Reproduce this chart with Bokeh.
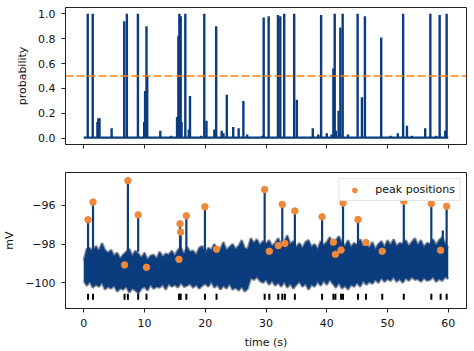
import numpy as np
from bokeh.plotting import figure
from bokeh.layouts import column
from bokeh.models import (Span, FixedTicker, Legend, LegendItem, Range1d,
                          PrintfTickFormatter, CustomJSTickFormatter)
from bokeh.embed import file_html
from bokeh.resources import INLINE

# ---------------- data ----------------
# top panel: spike probabilities (time s, probability)
prob_t = [0.66, 1.48, 2.25, 2.4, 2.6, 4.59, 6.67, 7.10, 8.92, 9.95, 10.1, 10.33, 10.45,
          12.6, 14.4, 15.36, 15.58, 15.74, 15.96, 16.1, 16.72, 17.3, 17.49, 19.3, 19.84,
          20.2, 21.5, 21.80, 22.7, 23.0, 23.55, 24.6, 25.5, 26.28, 26.9, 29.4, 29.62,
          30.44, 31.97, 32.2, 32.35, 33.0, 34.64, 35.08, 37.7, 38.6, 39.07, 40.0, 40.8,
          41.09, 41.31, 41.5, 41.95, 42.24, 42.62, 43.5, 45.08, 45.79, 46.28, 48.96,
          50.5, 51.7, 52.57, 53.2, 54.0, 56.2, 57.05, 58.0, 58.58, 59.5, 59.73]
prob_h = [1.0, 1.0, 0.13, 0.16, 0.16, 0.08, 0.94, 1.0, 1.0, 0.13, 0.38, 0.9, 0.5,
          0.06, 0.02, 0.17, 0.82, 1.0, 0.98, 0.13, 1.0, 0.07, 0.34, 0.02, 1.0,
          0.14, 0.07, 0.9, 0.06, 0.04, 0.35, 0.09, 0.08, 0.3, 0.03, 0.02, 0.97,
          0.98, 0.99, 0.02, 0.98, 1.0, 1.0, 0.31, 0.08, 0.03, 0.99, 0.04, 0.03,
          0.56, 1.0, 0.06, 0.22, 0.89, 1.0, 0.03, 1.0, 0.33, 0.98, 0.81,
          0.02, 0.04, 1.0, 0.1, 0.02, 0.08, 1.0, 0.02, 0.99, 0.06, 1.0]
prob_base_t = [0.0, 60.0]
prob_base_v = [0.006, 0.006]
threshold = 0.5

# bottom panel: detected peaks (time s, mV)
peak_t = [0.71, 1.53, 6.72, 7.27, 8.96, 10.33, 15.68, 15.85, 15.96, 16.89, 19.95,
          21.86, 29.78, 30.55, 32.02, 32.68, 33.11, 34.75, 39.23, 41.09, 41.42,
          42.35, 42.68, 45.14, 46.45, 49.13, 52.68, 57.21, 58.74, 59.73]
peak_mv = [-96.74, -95.83, -99.08, -94.72, -96.49, -99.2, -98.79, -96.95, -97.38,
           -96.54, -96.07, -98.27, -95.18, -98.37, -98.08, -95.95, -97.97, -96.29,
           -96.59, -97.9, -98.53, -98.31, -95.88, -96.73, -97.92, -98.37, -95.79,
           -95.91, -98.32, -96.05]
# an extra unlabelled transient
extra_t = [59.1]
extra_mv = [-97.3]

# envelope of the noisy membrane trace (every 0.5 s from 0 to 60 s)
env_t = [i * 0.5 for i in range(121)]
env_hi = [-98.85, -98.25, -98.2, -98.4, -98.1, -98.35, -97.95, -98.3, -98.45, -98.3,
          -98.6, -98.45, -98.75, -98.55, -98.4, -98.25, -98.6, -98.35, -98.5, -98.7,
          -98.45, -98.8, -98.6, -98.55, -98.75, -98.4, -98.65, -98.5, -98.55, -98.35,
          -98.6, -98.3, -98.2, -98.5, -98.15, -98.4, -98.35, -98.55, -98.2, -98.1,
          -98.45, -98.2, -98.3, -98.0, -98.35, -98.25, -97.9, -98.3, -98.15, -98.0,
          -98.25, -98.1, -97.8, -98.2, -98.25, -97.7, -97.95, -97.75, -98.05, -97.85,
          -98.0, -97.8, -98.1, -97.95, -97.7, -98.05, -97.9, -97.55, -98.0, -97.85,
          -98.15, -97.95, -98.2, -97.9, -97.8, -98.15, -98.0, -98.25, -97.85, -98.05,
          -97.9, -97.65, -98.0, -97.8, -97.6, -97.95, -98.1, -97.8, -98.15, -97.95,
          -98.05, -97.75, -98.1, -97.95, -98.2, -97.9, -98.25, -98.0, -97.85, -98.15,
          -97.8, -98.05, -97.75, -98.1, -97.95, -98.0, -97.8, -98.1, -97.9, -97.7,
          -98.05, -97.8, -98.15, -97.95, -98.0, -97.75, -98.05, -97.8, -97.65, -98.0,
          -98.2]
env_lo = [-99.9, -100.15, -99.95, -100.25, -100.1, -100.2, -100.0, -100.35, -100.2, -100.3,
          -100.15, -100.45, -100.3, -100.35, -100.2, -100.5, -100.3, -100.4, -100.55, -100.3,
          -100.2, -100.4, -100.1, -100.3, -100.2, -100.25, -100.1, -100.35, -100.05, -100.2,
          -100.1, -100.25, -100.0, -100.2, -100.15, -100.05, -100.25, -100.1, -100.3, -100.15,
          -100.05, -100.2, -99.95, -100.25, -100.1, -100.35, -100.15, -100.3, -100.05, -100.35,
          -100.25, -100.4, -100.2, -100.45, -100.3, -99.75, -99.85, -99.7, -99.9, -100.0,
          -99.85, -100.1, -99.9, -100.15, -100.0, -100.2, -99.95, -100.25, -100.05, -100.3,
          -100.1, -99.95, -100.2, -100.05, -100.35, -100.1, -100.2, -99.95, -100.15, -99.9,
          -100.1, -99.85, -100.05, -100.25, -100.0, -100.3, -100.15, -100.35, -100.1, -100.2,
          -100.0, -100.2, -99.9, -100.1, -99.95, -100.05, -99.85, -100.0, -99.75, -99.95,
          -99.8, -99.9, -99.7, -99.95, -99.8, -100.0, -99.75, -99.9, -99.7, -99.85,
          -99.8, -99.95, -99.75, -99.9, -99.85, -99.7, -99.95, -99.8, -99.9, -99.7,
          -99.8]

x_ticks = [0, 10, 20, 30, 40, 50, 60]
prob_ticks = [0.0, 0.2, 0.4, 0.6, 0.8, 1.0]
mv_ticks = [-100, -98, -96]
mv_tick_labels = {-100: "\u2212100", -98: "\u221298", -96: "\u221296"}

# ---------------- style ----------------
BLUE = "#0b3c7d"
GREY = "#7d8491"
ORANGE = "#ff7f0e"
DOT = "#f0883c"
FONT = "DejaVu Sans"
FS = "11px"
SPIKE_BASE = -98.4
RUG_Y = -100.72


def style(p):
    p.xgrid.visible = False
    p.ygrid.visible = False
    p.outline_line_color = "#222222"
    p.outline_line_width = 1
    p.background_fill_color = "white"
    p.border_fill_color = "white"
    for ax in (p.xaxis, p.yaxis):
        ax.axis_line_color = "#222222"
        ax.major_tick_line_color = "#222222"
        ax.major_tick_out = 4
        ax.major_tick_in = 0
        ax.minor_tick_line_color = None
        ax.major_label_text_font = FONT
        ax.major_label_text_font_size = FS
        ax.major_label_text_color = "#111111"
        ax.axis_label_text_font = FONT
        ax.axis_label_text_font_size = FS
        ax.axis_label_text_font_style = "normal"
        ax.axis_label_text_color = "#111111"
        ax.major_label_standoff = 6
        ax.axis_label_standoff = 6


xr = Range1d(-3, 63)

# ---------------- top ----------------
p1 = figure(width=474, height=158, x_range=xr, y_range=Range1d(-0.05, 1.05),
            output_backend="svg", toolbar_location=None,
            min_border_left=63, min_border_right=8, min_border_top=7, min_border_bottom=14)
style(p1)
p1.line(prob_base_t, prob_base_v, line_color=BLUE, line_width=2.2)
p1.segment(x0=prob_t, y0=[prob_base_v[0]] * len(prob_t), x1=prob_t, y1=prob_h,
           line_color=BLUE, line_width=2.4)
p1.add_layout(Span(location=threshold, dimension="width", line_color=ORANGE,
                   line_width=1.6, line_dash="8 3"))
p1.xaxis.ticker = FixedTicker(ticks=x_ticks)
p1.xaxis.formatter = CustomJSTickFormatter(code="return ''")
p1.yaxis.ticker = FixedTicker(ticks=prob_ticks)
p1.yaxis.formatter = PrintfTickFormatter(format="%.1f")
p1.yaxis.axis_label = "probability"

# ---------------- bottom ----------------
p2 = figure(width=474, height=193, x_range=xr, y_range=Range1d(-101.33, -94.3),
            output_backend="svg", toolbar_location=None,
            min_border_left=63, min_border_right=8, min_border_top=14, min_border_bottom=43)
style(p2)
p2.line(env_t, env_hi, line_color=GREY, line_width=2.6, line_alpha=0.9)
p2.line(env_t, env_lo, line_color=GREY, line_width=2.6, line_alpha=0.9)
p2.varea(x=env_t, y1=env_lo, y2=env_hi, fill_color=BLUE)

sp_t = [t for t, v in zip(peak_t, peak_mv) if v > SPIKE_BASE] + extra_t
sp_v = [v for v in peak_mv if v > SPIKE_BASE] + extra_mv
p2.segment(x0=sp_t, y0=[SPIKE_BASE] * len(sp_t), x1=sp_t, y1=sp_v,
           line_color=BLUE, line_width=2.2)
p2.scatter(peak_t, [RUG_Y] * len(peak_t), marker="dash", angle=np.pi / 2,
           size=6, line_color="black", line_width=2)
dots = p2.scatter(peak_t, peak_mv, size=6.5, fill_color=DOT, line_color=DOT)

p2.xaxis.ticker = FixedTicker(ticks=x_ticks)
p2.xaxis.axis_label = "time (s)"
p2.yaxis.ticker = FixedTicker(ticks=mv_ticks)
p2.yaxis.major_label_overrides = mv_tick_labels
p2.yaxis.axis_label = "mV"

legend = Legend(items=[LegendItem(label="peak positions", renderers=[dots])],
                location="top_right")
legend.label_text_font = FONT
legend.label_text_font_size = FS
legend.label_text_color = "#111111"
legend.border_line_color = "#cccccc"
legend.border_line_width = 1
legend.background_fill_alpha = 0.85
legend.margin = 6
legend.padding = 4
legend.glyph_width = 22
legend.glyph_height = 12
legend.label_height = 12
legend.label_standoff = 10
legend.spacing = 0
p2.add_layout(legend)

layout = column(p1, p2, spacing=0)
open("out.html", "w").write(file_html(layout, INLINE))
